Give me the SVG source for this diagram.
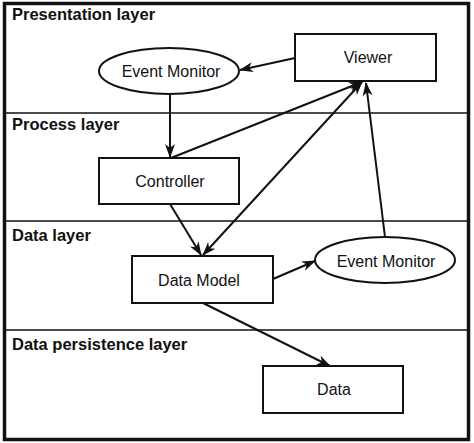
<svg xmlns="http://www.w3.org/2000/svg" width="474" height="443" viewBox="0 0 474 443">
<style>
.lbl{font-family:"Liberation Sans",Arial,sans-serif;font-size:16.5px;font-weight:bold;fill:#111}
.txt{font-family:"Liberation Sans",Arial,sans-serif;font-size:16px;fill:#111;text-anchor:middle}
.shape{fill:#fff;stroke:#111;stroke-width:2}
.sep{stroke:#111;stroke-width:1.5}
.conn{stroke:#111;stroke-width:2;fill:none}
</style>
<defs>
<marker id="ah" markerUnits="userSpaceOnUse" markerWidth="14" markerHeight="12" refX="13" refY="5" orient="auto-start-reverse" viewBox="0 0 14 10">
<path d="M0,0 L14,5 L0,10 L4,5 z" fill="#111"/>
</marker>
</defs>
<rect x="0" y="0" width="474" height="443" fill="#fff"/>
<rect x="4.5" y="3.5" width="464" height="436" fill="none" stroke="#111" stroke-width="3.5"/>
<g id="layers">
<line class="sep" x1="5" y1="113" x2="468" y2="113"/>
<line class="sep" x1="5" y1="221" x2="468" y2="221"/>
<line class="sep" x1="5" y1="330" x2="468" y2="330"/>
<text class="lbl" x="12" y="20">Presentation layer</text>
<text class="lbl" x="12" y="130">Process layer</text>
<text class="lbl" x="12" y="241">Data layer</text>
<text class="lbl" x="12" y="350">Data persistence layer</text>
</g>
<g id="viewer"><rect class="shape" x="295" y="34" width="141" height="47"/><text class="txt" x="368" y="63">Viewer</text></g>
<g id="eventmonitor1"><ellipse class="shape" cx="169" cy="71" rx="70" ry="23"/><text class="txt" x="171" y="77">Event Monitor</text></g>
<g id="controller"><rect class="shape" x="99" y="158" width="140" height="46"/><text class="txt" x="170" y="187">Controller</text></g>
<g id="datamodel"><rect class="shape" x="132" y="256" width="141" height="47"/><text class="txt" x="199" y="286">Data Model</text></g>
<g id="eventmonitor2"><ellipse class="shape" cx="385" cy="260" rx="70" ry="23"/><text class="txt" x="386" y="267">Event Monitor</text></g>
<g id="data"><rect class="shape" x="263" y="366" width="140" height="47"/><text class="txt" x="334" y="395">Data</text></g>
<g id="connectors">
<line class="conn" x1="295" y1="58" x2="240" y2="70" marker-end="url(#ah)"/>
<line class="conn" x1="170" y1="94" x2="170" y2="157" marker-end="url(#ah)"/>
<line class="conn" x1="171" y1="158" x2="362" y2="82" marker-end="url(#ah)"/>
<line class="conn" x1="203" y1="255" x2="362" y2="82" marker-start="url(#ah)" marker-end="url(#ah)"/>
<line class="conn" x1="170" y1="204" x2="201" y2="255" marker-end="url(#ah)"/>
<line class="conn" x1="385" y1="237" x2="366" y2="83" marker-end="url(#ah)"/>
<line class="conn" x1="273" y1="279" x2="315" y2="261" marker-end="url(#ah)"/>
<line class="conn" x1="203" y1="303" x2="330" y2="366" marker-end="url(#ah)"/>
</g>
</svg>
